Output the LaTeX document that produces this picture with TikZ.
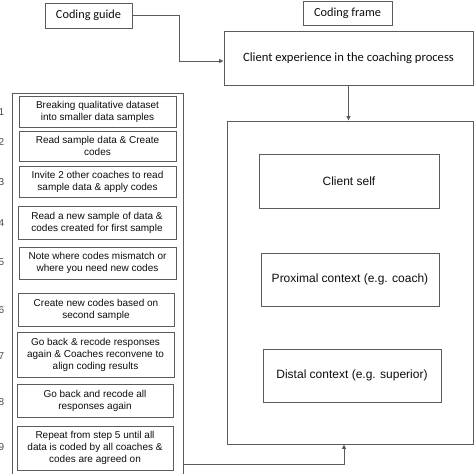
\documentclass[tikz,border=0pt]{standalone}
\usepackage{fontspec}
\setmainfont{Liberation Sans}
\newfontfamily\calib{Carlito}
\usetikzlibrary{arrows.meta}
\definecolor{linec}{rgb}{0.36,0.36,0.36}
\definecolor{txtc}{rgb}{0.05,0.05,0.05}
\tikzset{
  x=1pt, y=-1pt,
  box/.style={draw=linec, line width=0.9pt, inner sep=0pt, align=center, text=txtc},
  stepbox/.style={box, font=\fontsize{10}{12}\selectfont},
  ctxbox/.style={box, font=\fontsize{12}{14}\selectfont},
  calbox/.style={box, font=\calib\fontsize{12.3}{14}\selectfont},
  num/.style={anchor=east, text=txtc!75, font=\fontsize{10}{12}\selectfont, inner sep=0pt},
  arr/.style={draw=linec, line width=0.9pt, -{Triangle[length=4.5pt,width=4pt]}},
}
\begin{document}
\begin{tikzpicture}
\useasboundingbox (0,0) rectangle (474,474);
% top boxes
\node[calbox, minimum width=87pt, minimum height=25pt] (cg) at (88.5,15.5) {Coding guide};
\node[calbox, minimum width=89pt, minimum height=24pt] (cf) at (347.5,13) {Coding frame};
\node[calbox, font=\calib\fontsize{12.6}{14}\selectfont, minimum width=249pt, minimum height=54pt] (ce) at (348.5,58) {Client experience in the coaching process};
% right outer box
\node[box, minimum width=246pt, minimum height=323pt] (outer) at (350,282.5) {};
\node[ctxbox, minimum width=180pt, minimum height=54pt] (cs) at (349,181) {Client self};
\node[ctxbox, minimum width=178pt, minimum height=53pt] (pc) at (350,279.5) {Proximal context (e.g. coach)};
\node[ctxbox, minimum width=178pt, minimum height=53pt] (dc) at (352,375.5) {Distal context (e.g. superior)};
% left outer box
\node[box, minimum width=171pt, minimum height=387pt] (left) at (97.5,286.5) {};
% steps
\node[stepbox, minimum width=157pt, minimum height=31pt] (s1) at (97.5,111.5) {Breaking qualitative dataset\\into smaller data samples};
\node[stepbox, minimum width=157pt, minimum height=30pt] (s2) at (97.5,146) {Read sample data \& Create\\codes};
\node[stepbox, minimum width=157pt, minimum height=31pt] (s3) at (97.5,181.5) {Invite 2 other coaches to read\\sample data \& apply codes};
\node[stepbox, minimum width=158pt, minimum height=33pt] (s4) at (97,222.5) {Read a new sample of data \&\\codes created for first sample};
\node[stepbox, minimum width=157pt, minimum height=32pt] (s5) at (97.5,263) {Note where codes mismatch or\\where you need new codes};
\node[stepbox, minimum width=156pt, minimum height=33pt] (s6) at (96,309.5) {Create new codes based on\\second sample};
\node[stepbox, minimum width=157pt, minimum height=45pt] (s7) at (95.5,354.5) {Go back \& recode responses\\again \& Coaches reconvene to\\align coding results};
\node[stepbox, minimum width=156pt, minimum height=33pt] (s8) at (95,400.5) {Go back and recode all\\responses again};
\node[stepbox, minimum width=156pt, minimum height=44pt] (s9) at (95,448) {Repeat from step 5 until all\\data is coded by all coaches \&\\codes are agreed on};
% numbers
\node[num] (n1) at (4.5,112) {1};
\node[num] (n2) at (4.5,142) {2};
\node[num] (n3) at (4.5,182) {3};
\node[num] (n4) at (4.5,223) {4};
\node[num] (n5) at (4.5,262) {5};
\node[num] (n6) at (4.5,310) {6};
\node[num] (n7) at (4.5,356) {7};
\node[num] (n8) at (4.5,402) {8};
\node[num] (n9) at (4.5,447) {9};
% connectors
\coordinate (k1) at (179,61);
\draw[arr] (cg.east) -| (k1) -- (ce.west |- k1);
\draw[arr] (ce.south) -- (ce.south |- outer.north);
\coordinate (k2) at (344,464);
\draw[arr] (left.east |- k2) -- (k2) -- (k2 |- outer.south);
\end{tikzpicture}
\end{document}
